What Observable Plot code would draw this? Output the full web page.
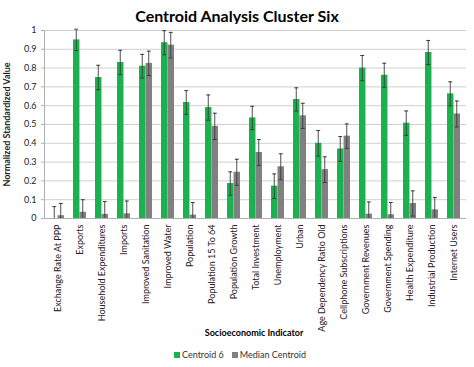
<!DOCTYPE html>
<html><head><meta charset="utf-8">
<script src="https://cdn.jsdelivr.net/npm/d3@7"></script>
<script src="https://cdn.jsdelivr.net/npm/@observablehq/plot@0.6"></script>
<style>
body{margin:0;background:#fff;font-family:Lato,"Open Sans",sans-serif;}
#wrap{position:relative;width:474px;height:367px;overflow:hidden;}
#title{position:absolute;top:6px;left:0;width:474px;text-align:center;font-weight:bold;font-size:16px;color:#000;}
#chart{position:absolute;top:24px;left:0;}
#xtitle{position:absolute;top:327px;left:194px;width:120px;text-align:center;font-weight:bold;font-size:9px;color:#000;white-space:nowrap;}
#legend{position:absolute;top:349px;left:174px;font-size:9px;color:#333;white-space:nowrap;}
#legend span.sw{display:inline-block;width:6px;height:6px;margin-right:2px;vertical-align:0px;}
g[aria-label="y-axis label"] text{font-weight:bold;}
</style></head>
<body>
<div id="wrap">
<div id="title">Centroid Analysis Cluster Six</div>
<div id="chart"></div>
<div id="xtitle">Socioeconomic Indicator</div>
<div id="legend"></div>
</div>
<script>
const categories = ["Exchange Rate At PPP","Exports","Household Expenditures","Imports","Improved Sanitation","Improved Water","Population","Population 15 To 64","Population Growth","Total Investment","Unemployment","Urban","Age Dependency Ratio Old","Cellphone Subscriptions","Government Revenues","Government Spending","Health Expenditure","Industrial Production","Internet Users"];
const seriesNames = ["Centroid 6","Median Centroid"];
const centroid6 = [0.0,0.95,0.75,0.83,0.81,0.935,0.617,0.59,0.186,0.535,0.172,0.633,0.40,0.37,0.80,0.762,0.507,0.883,0.663];
const centroid6Err = [0.063,0.057,0.065,0.065,0.063,0.064,0.063,0.067,0.062,0.062,0.065,0.062,0.068,0.066,0.067,0.064,0.065,0.064,0.064];
const medianCentroid = [0.015,0.033,0.022,0.025,0.825,0.922,0.018,0.49,0.246,0.351,0.275,0.546,0.26,0.438,0.023,0.02,0.08,0.046,0.556];
const medianErr = [0.065,0.067,0.068,0.068,0.065,0.068,0.067,0.07,0.069,0.069,0.069,0.067,0.068,0.065,0.065,0.065,0.067,0.066,0.069];
const yTicks = [0,0.1,0.2,0.3,0.4,0.5,0.6,0.7,0.8,0.9,1];
const colors = ["#1cb14f","#808080"];

const W = 474, H = 318, ML = 44, MR = 8, MT = 6, MB = 124, PI = 0.41, PO = 0.205;
const step = (W - ML - MR) / (categories.length - PI + 2 * PO);
const bw = step * (1 - PI);
const half = bw / 2;

const rows = [];
categories.forEach((c, i) => {
  rows.push({cat: c, series: seriesNames[0], value: centroid6[i], err: centroid6Err[i], side: 0});
  rows.push({cat: c, series: seriesNames[1], value: medianCentroid[i], err: medianErr[i], side: 1});
});
const g = rows.filter(d => d.side === 0);
const m = rows.filter(d => d.side === 1);
const errColor = "#3a3a3a";

// c = center of the error bar measured from the band's left edge
function errMarks(data, c) {
  return [
    Plot.barY(data, {x: "cat", y1: d => Math.max(0, d.value - d.err), y2: d => Math.min(1, d.value + d.err), insetLeft: c - 0.5, insetRight: bw - c - 0.5, fill: errColor}),
    Plot.tickY(data, {x: "cat", y: d => d.value + d.err, insetLeft: c - 2, insetRight: bw - c - 2, stroke: errColor, strokeWidth: 1}),
    Plot.tickY(data.filter(d => d.value - d.err > 0), {x: "cat", y: d => d.value - d.err, insetLeft: c - 2, insetRight: bw - c - 2, stroke: errColor, strokeWidth: 1})
  ];
}

const chart = Plot.plot({
  width: W, height: H, marginLeft: ML, marginRight: MR, marginTop: MT, marginBottom: MB,
  style: {fontFamily: "Lato, 'Open Sans', sans-serif", fontSize: "9px", color: "#222", background: "#fff"},
  x: {domain: categories, paddingInner: PI, paddingOuter: PO},
  y: {domain: [0, 1]},
  color: {domain: seriesNames, range: colors},
  marks: [
    Plot.gridY(yTicks, {stroke: "#d0d0d0", strokeOpacity: 1}),
    Plot.barY(g, {x: "cat", y: "value", fill: "series", insetRight: half}),
    Plot.barY(m, {x: "cat", y: "value", fill: "series", insetLeft: half}),
    ...errMarks(g, half / 2),
    ...errMarks(m, half + half / 2),
    Plot.ruleY([0], {stroke: "#b0b0b0"}),
    Plot.axisY({ticks: yTicks, tickSize: 3, tickPadding: 5, stroke: "#b0b0b0", tickFormat: d3.format("~g"), label: "Normalized Standardized Value", labelAnchor: "center", labelOffset: 41, labelArrow: "none"}),
    Plot.axisX({tickRotate: -90, tickSize: 0, tickPadding: 6, label: null}),
    Plot.frame({anchor: "left", stroke: "#b0b0b0"})
  ]
});
document.getElementById("chart").appendChild(chart);

const leg = document.getElementById("legend");
seriesNames.forEach((s, i) => {
  const item = document.createElement("span");
  item.style.marginRight = "8px";
  item.innerHTML = `<span class="sw" style="background:${colors[i]}"></span>${s}`;
  leg.appendChild(item);
});
</script>
</body></html>
